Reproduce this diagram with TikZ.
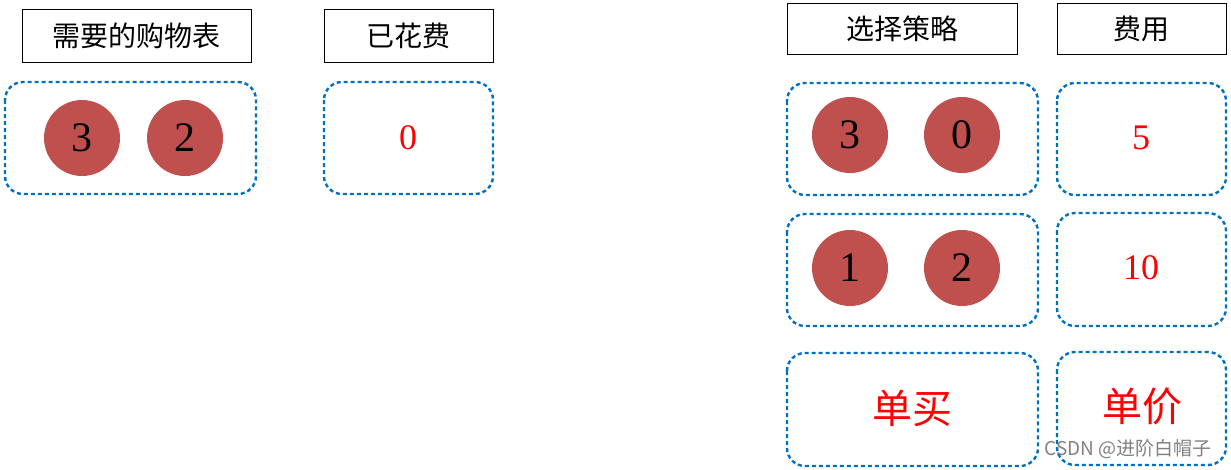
\documentclass[tikz,border=0pt]{standalone}
\usepackage{fontspec}
\setmainfont{Liberation Serif}
\newfontfamily\cjk{Noto Sans CJK SC}
\definecolor{cred}{HTML}{C0504D}
\definecolor{dblue}{HTML}{0070C0}
\begin{document}
\begin{tikzpicture}[x=1pt,y=-1pt]
\tikzset{
 hbox/.style={draw=black,line width=1pt,inner sep=0pt,font=\cjk\fontsize{28}{30}\selectfont},
 dbox/.style={draw=dblue,line width=2.4pt,dash pattern=on 4pt off 3pt,rounded corners=18pt},
 ball/.style={circle,fill=cred,minimum size=76pt,inner sep=0pt,font=\fontsize{42}{44}\selectfont},
 rnum/.style={text=red,font=\fontsize{36}{38}\selectfont},
 rcjk/.style={text=red,font=\cjk\fontsize{40}{42}\selectfont}
}
\useasboundingbox (0,0) rectangle (1231,469);
\node[hbox,minimum width=229pt,minimum height=53pt] (h1) at (136.5,35.5) {需要的购物表};
\node[hbox,minimum width=169pt,minimum height=53pt] (h2) at (408.5,35.5) {已花费};
\node[hbox,minimum width=230pt,minimum height=51pt] (h3) at (902,28.5) {选择策略};
\node[hbox,minimum width=169pt,minimum height=51pt] (h4) at (1141.5,28.5) {费用};
\draw[dbox] (5,82) rectangle (256,194);
\node[ball] (a1) at (82,138) {3};
\node[ball] (a2) at (185,138) {2};
\draw[dbox] (324,82) rectangle (493,194);
\node[rnum] (z) at (408,138) {0};
\draw[dbox] (787,83) rectangle (1038,195);
\node[ball] (b1) at (850,135) {3};
\node[ball] (b2) at (962,135) {0};
\draw[dbox] (1057,83) rectangle (1226,195);
\node[rnum] (c1) at (1141,138) {5};
\draw[dbox] (787,214) rectangle (1038,326);
\node[ball] (d1) at (850,268) {1};
\node[ball] (d2) at (962,268) {2};
\draw[dbox] (1057,213) rectangle (1226,326);
\node[rnum] (c2) at (1141,268) {10};
\draw[dbox] (787,353) rectangle (1038,466);
\node[rcjk] (e1) at (912,408) {单买};
\draw[dbox] (1057,352) rectangle (1226,465);
\node[rcjk] (e2) at (1142,406) {单价};
\node[text=gray,font=\cjk\fontsize{19}{20}\selectfont] (wm) at (1128,449) {CSDN @进阶白帽子};
\end{tikzpicture}
\end{document}
